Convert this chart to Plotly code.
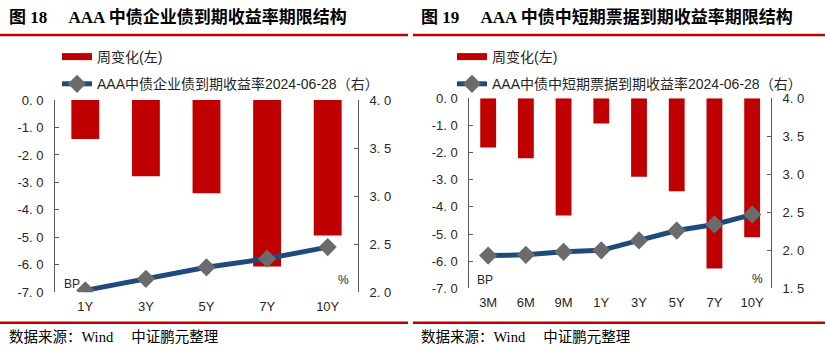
import plotly.graph_objects as go

# ---------------- data ----------------
cats1 = ["1Y", "3Y", "5Y", "7Y", "10Y"]
chg1 = [-1.42, -2.78, -3.39, -6.06, -4.93]
ytm1 = [2.02, 2.14, 2.26, 2.35, 2.47]

cats2 = ["3M", "6M", "9M", "1Y", "3Y", "5Y", "7Y", "10Y"]
chg2 = [-1.81, -2.21, -4.32, -0.93, -2.89, -3.42, -6.27, -5.12]
ytm2 = [1.93, 1.94, 1.98, 2.00, 2.13, 2.26, 2.34, 2.47]

NB = "\u00a0"
left_ticks = [0, -1, -2, -3, -4, -5, -6, -7]
left_ticktext = ["0." + NB + "0", "-1." + NB + "0", "-2." + NB + "0", "-3." + NB + "0",
                 "-4." + NB + "0", "-5." + NB + "0", "-6." + NB + "0", "-7." + NB + "0"]
right1_ticks = [4.0, 3.5, 3.0, 2.5, 2.0]
right1_text = ["4." + NB + "0", "3." + NB + "5", "3." + NB + "0", "2." + NB + "5", "2." + NB + "0"]
right2_ticks = [4.0, 3.5, 3.0, 2.5, 2.0, 1.5]
right2_text = ["4." + NB + "0", "3." + NB + "5", "3." + NB + "0", "2." + NB + "5",
               "2." + NB + "0", "1." + NB + "5"]

bar_name = "周变化(左)"
line1_name = "AAA中债企业债到期收益率2024-06-28（右）"
line2_name = "AAA中债中短期票据到期收益率2024-06-28（右）"
title1 = "图 18\u3000 AAA 中债企业债到期收益率期限结构"
title2 = "图 19\u3000 AAA 中债中短期票据到期收益率期限结构"
source = "数据来源：Wind\u3000 中证鹏元整理"

# ---------------- styles ----------------
W, H = 825, 352
RED = "#C00000"
BLUE = "#1F4A7C"
GREY = "#6B6B6B"
AX = "#595959"
TXT = "#262626"
SANS = "Liberation Sans, Noto Sans CJK SC"
NARROW = "Liberation Sans Narrow, Liberation Sans"
MIX = "Liberation Serif, Noto Sans CJK SC"


def px_x(v):
    return v / W


def px_y(v):
    return 1 - v / H


fig = go.Figure()

# left panel
fig.add_trace(go.Bar(x=cats1, y=chg1, marker=dict(color=RED, line=dict(width=0)),
                     width=0.46, xaxis="x", yaxis="y", showlegend=False))
fig.add_trace(go.Scatter(x=[None], y=[None], mode="lines", name=bar_name,
                         line=dict(color=RED, width=7), xaxis="x", yaxis="y",
                         legend="legend", legendgroup="a1"))
fig.add_trace(go.Scatter(x=cats1, y=ytm1, mode="lines+markers", name=line1_name,
                         line=dict(color=BLUE, width=5),
                         marker=dict(symbol="diamond", size=14, color=GREY),
                         xaxis="x", yaxis="y2", legend="legend", legendgroup="b1"))

# right panel
fig.add_trace(go.Bar(x=cats2, y=chg2, marker=dict(color=RED, line=dict(width=0)),
                     width=0.42, xaxis="x3", yaxis="y3", showlegend=False))
fig.add_trace(go.Scatter(x=[None], y=[None], mode="lines", name=bar_name,
                         line=dict(color=RED, width=7), xaxis="x3", yaxis="y3",
                         legend="legend2", legendgroup="a2"))
fig.add_trace(go.Scatter(x=cats2, y=ytm2, mode="lines+markers", name=line2_name,
                         line=dict(color=BLUE, width=5),
                         marker=dict(symbol="diamond", size=14, color=GREY),
                         xaxis="x3", yaxis="y4", legend="legend2", legendgroup="b2"))

dom1x = [px_x(55), px_x(358)]
dom1y = [px_y(292.3), px_y(100)]
dom2x = [px_x(469.3), px_x(771)]
dom2y = [px_y(288.3), px_y(98.3)]

tickfont = dict(family=SANS, size=13, color=TXT)
xfont = dict(family=NARROW, size=13, color=TXT)


def yaxis_common(**kw):
    d = dict(showline=True, linecolor=AX, linewidth=1, ticks="inside", ticklen=4,
             tickcolor=AX, showgrid=False, zeroline=False, tickfont=tickfont,
             ticklabelstandoff=8, automargin=False)
    d.update(kw)
    return d


layout = dict(
    width=W, height=H, margin=dict(l=0, r=0, t=0, b=0, autoexpand=False),
    paper_bgcolor="white", plot_bgcolor="white",
    # left panel axes
    xaxis=dict(domain=dom1x, anchor="y", type="category", categoryorder="array",
               categoryarray=cats1, range=[-0.5, len(cats1) - 0.5], showline=False,
               ticks="", showgrid=False, tickfont=xfont, ticklabelstandoff=5,
               automargin=False),
    xaxis2=dict(overlaying="x", anchor="y", side="top", range=[-0.5, len(cats1) - 0.5],
                tickvals=[i + 0.5 for i in range(len(cats1) - 1)], showticklabels=False,
                ticks="outside", ticklen=4, tickcolor=AX, showline=True, linecolor=AX,
                linewidth=1, showgrid=False, zeroline=False, automargin=False),
    yaxis=yaxis_common(domain=dom1y, anchor="x", range=[-7, 0], tickvals=left_ticks,
                       ticktext=left_ticktext),
    yaxis2=yaxis_common(overlaying="y", anchor="x", side="right", range=[2, 4],
                        tickvals=right1_ticks, ticktext=right1_text),
    # right panel axes
    xaxis3=dict(domain=dom2x, anchor="y3", type="category", categoryorder="array",
                categoryarray=cats2, range=[-0.5, len(cats2) - 0.5], showline=False,
                ticks="", showgrid=False, tickfont=xfont, ticklabelstandoff=5,
                automargin=False),
    xaxis4=dict(overlaying="x3", anchor="y3", side="top", range=[-0.5, len(cats2) - 0.5],
                tickvals=[i + 0.5 for i in range(len(cats2) - 1)], showticklabels=False,
                ticks="outside", ticklen=4, tickcolor=AX, showline=True, linecolor=AX,
                linewidth=1, showgrid=False, zeroline=False, automargin=False),
    yaxis3=yaxis_common(domain=dom2y, anchor="x3", range=[-7, 0], tickvals=left_ticks,
                        ticktext=left_ticktext),
    yaxis4=yaxis_common(overlaying="y3", anchor="x3", side="right", range=[1.5, 4],
                        tickvals=right2_ticks, ticktext=right2_text),
    legend=dict(x=px_x(57), y=px_y(41), xanchor="left", yanchor="top",
                bgcolor="rgba(0,0,0,0)", borderwidth=0, traceorder="grouped",
                tracegroupgap=6, font=dict(family=SANS, size=14, color=TXT)),
    legend2=dict(x=px_x(452), y=px_y(41), xanchor="left", yanchor="top",
                 bgcolor="rgba(0,0,0,0)", borderwidth=0, traceorder="grouped",
                 tracegroupgap=6, font=dict(family=SANS, size=14, color=TXT)),
    bargap=0.5,
)
fig.update_layout(**layout)

annots = []
# titles
for x0, t in [(7, title1), (419, title2)]:
    annots.append(dict(x=px_x(x0), y=px_y(17), xref="paper", yref="paper",
                       xanchor="left", yanchor="middle", showarrow=False,
                       text="<b>" + t + "</b>",
                       font=dict(family=MIX, size=17, color="#000000")))
# sources
for x0 in [7, 419]:
    annots.append(dict(x=px_x(x0), y=px_y(337), xref="paper", yref="paper",
                       xanchor="left", yanchor="middle", showarrow=False,
                       text=source, font=dict(family=MIX, size=14.5, color="#000000")))
# unit labels
for x0, y0, t in [(72, 284, "BP"), (343, 280, "%"), (485, 280, "BP"), (757, 279, "%")]:
    annots.append(dict(x=px_x(x0), y=px_y(y0), xref="paper", yref="paper",
                       xanchor="center", yanchor="middle", showarrow=False,
                       text=t, font=dict(family=SANS, size=12, color=TXT)))
fig.update_layout(annotations=annots)

shapes = []
for (xa, xb) in [(0, 408), (413, 825)]:
    for yy in [35, 322.7]:
        shapes.append(dict(type="line", xref="paper", yref="paper",
                           x0=px_x(xa), x1=px_x(xb), y0=px_y(yy), y1=px_y(yy),
                           line=dict(color=RED, width=2.5)))
fig.update_layout(shapes=shapes)

fig.write_html("out.html")
